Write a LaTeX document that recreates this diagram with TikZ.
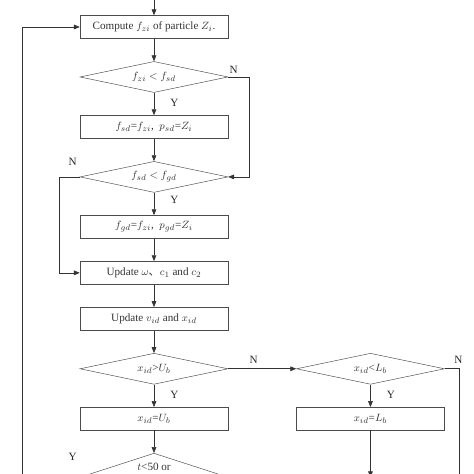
\documentclass[tikz,border=0pt]{standalone}
\usepackage{fontspec}
\setmainfont{Liberation Serif}
\newfontfamily\cjk{Noto Sans CJK SC}
\usetikzlibrary{shapes.geometric, arrows.meta, positioning, calc}

\begin{document}
\begin{tikzpicture}[
  font=\fontsize{9.5}{11}\selectfont,
  node distance=0.675cm,
  box/.style={rectangle, draw=black!70, text=black!80, minimum width=4.44cm,
              minimum height=0.69cm, inner sep=1pt, align=center},
  test/.style={diamond, draw=black!70, text=black!80, aspect=4.8,
               minimum width=4.44cm, minimum height=0.93cm, inner sep=0pt},
  arr/.style={-{Triangle[length=5pt,width=4pt]}, black!80, line width=0.5pt},
  lab/.style={font=\fontsize{9.5}{11}\selectfont, text=black!85, inner sep=1pt},
]
  \path[use as bounding box, clip] (-4.62,0.81) rectangle (9.6,-13.41);

  \node[box] (b1) at (0,0) {Compute $f_{zi}$ of particle $Z_i$.};
  \node[test, below=of b1] (d1) {$f_{zi}<f_{sd}$};
  \node[box, below=of d1] (b2) {$f_{sd}$=$f_{zi}$,\ \ $p_{sd}$=$Z_i$};
  \node[test, below=of b2] (d2) {$f_{sd}<f_{gd}$};
  \node[box, below=of d2] (b3) {$f_{gd}$=$f_{zi}$,\ \ $p_{gd}$=$Z_i$};
  \node[box, below=of b3] (b4) {Update $\omega${\cjk 、}$c_1$ and $c_2$};
  \node[box, below=of b4] (b5) {Update $v_{id}$ and $x_{id}$};
  \node[test, below=of b5] (d3) {$x_{id}$>$U_b$};
  \node[box, below=of d3] (b6) {$x_{id}$=$U_b$};
  \node[test, minimum height=1.44cm, below=of b6] (d5) {};
  \node[lab, text=black!80, above=0.17cm of d5.center] (d5t) {$t$<50 or};
  \node[test, right=2.04cm of d3] (d4) {$x_{id}$<$L_b$};
  \node[box, below=of d4] (b7) {$x_{id}$=$L_b$};

  \coordinate (start) at (0,0.81);

  \draw[arr] (start)--(b1);
  \draw[arr] (b1)--(d1); \draw[arr] (d1)--(b2);
  \draw[arr] (b2)--(d2); \draw[arr] (d2)--(b3);
  \draw[arr] (b3)--(b4); \draw[arr] (b4)--(b5);
  \draw[arr] (b5)--(d3); \draw[arr] (d3)--(b6);
  \draw[arr] (b6)--(d5); \draw[arr] (d3)--(d4);
  \draw[arr] (d4)--(b7);

  \draw[arr] (d1.east) -- ++(0.63,0) |- (d2.east);
  \draw[arr] (d2.west) -- ++(-0.6,0) |- (b4.west);
  \draw[arr] (d4.east) -- ++(0.45,0) |- (d5.east);
  \draw[arr] (b7) -- (b7 |- d5.east);
  \draw[arr] (d5.west) -- ++(-1.71,0) |- (b1.west);

  \node[lab, above right=0.05cm and 0.0cm of d1.east] {N};
  \node[lab, below right=0.15cm and 0.45cm of d1.south] {Y};
  \node[lab, above left=0.3cm and 0.05cm of d2.west] {N};
  \node[lab, below right=0.05cm and 0.45cm of d2.south] {Y};
  \node[lab, above right=0.12cm and 0.6cm of d3.east] {N};
  \node[lab, below right=0.15cm and 0.45cm of d3.south] {Y};
  \node[lab, above right=0.12cm and 0.25cm of d4.east] {N};
  \node[lab, below right=0.15cm and 0.45cm of d4.south] {Y};
  \node[lab, above left=0.45cm and 0.05cm of d5.west] {Y};
\end{tikzpicture}
\end{document}
